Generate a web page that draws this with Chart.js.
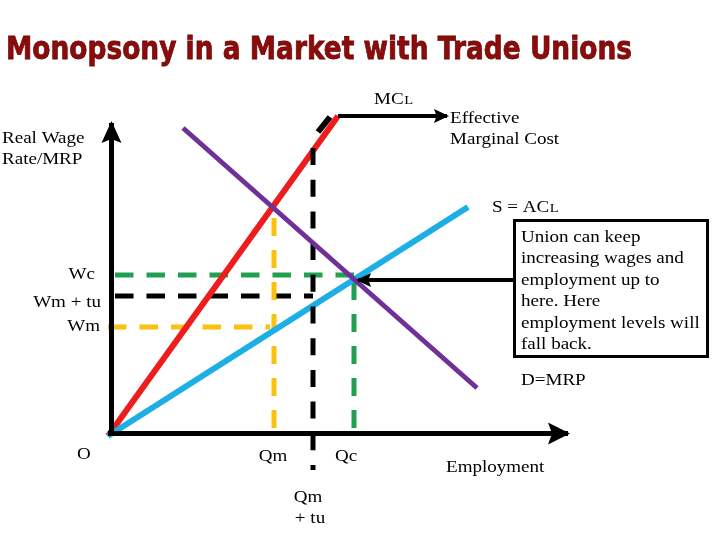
<!DOCTYPE html>
<html><head><meta charset="utf-8">
<script src="https://cdn.jsdelivr.net/npm/chart.js@4.4.1/dist/chart.umd.min.js"></script>
<style>html,body{margin:0;padding:0;background:#fff;}canvas{display:block;}</style>
</head><body>
<canvas id="c" width="720" height="540"></canvas>
<script>
// ---- Data (x = employment units, y = real wage units) ----
const titleText = 'Monopsony in a Market with Trade Unions';
const mclX = [0, 23.0];
const mclY = [0, 32.0];
const aclX = [0, 36.0];
const aclY = [0, 22.9];
const mrpX = [7.5, 36.9];
const mrpY = [30.8, 4.8];
const effMcX = [23.0, 33.9];
const effMcY = [32.0, 32.0];
const kinkX = [21.0, 22.2];
const kinkY = [30.4, 31.9];
const wageNames = ['Wm', 'Wm + tu', 'Wc'];
const wageValues = [10.9, 14.0, 16.1];
const qtyNames = ['Qm', 'Qm + tu', 'Qc'];
const qtyValues = [16.6, 20.5, 24.6];
const guideXStart = [0.0, 0.7, 0.7];
const guideXEnd = [16.2, 20.5, 24.6];
const guideYTop = [21.8, 28.8, 16.1];
const guideYBottom = [0.8, -3.4, 0.8];
const yAxisX = [0.35, 0.35];
const yAxisY = [0, 31.3];
const xAxisX = [0, 46.0];
const xAxisY = [0.25, 0.25];
const noteArrowX = [40.5, 25.0];
const noteArrowY = [15.6, 15.6];
const noteLines = ['Union can keep', 'increasing wages and', 'employment up to', 'here. Here', 'employment levels will', 'fall back.'];

// ---- styles ----
const RED = '#ee1c1c', BLUE = '#1eaee6', PURPLE = '#6f3198', YELLOW = '#fcc10f', GREEN = '#21a052', BLACK = '#000';
const pts = (xs, ys) => xs.map((x, i) => ({x, y: ys[i]}));
const guideColors = [YELLOW, BLACK, GREEN];

const datasets = [];
function line(data, color, width, order, extra) {
  datasets.push(Object.assign({data, borderColor: color, borderWidth: width, showLine: true, pointRadius: 0,
    fill: false, tension: 0, order, borderCapStyle: 'butt'}, extra || {}));
}
// horizontal guides
wageValues.forEach((w, i) => {
  line(pts([guideXStart[i], guideXEnd[i]], [w, w]), guideColors[i], 5, 20 - i, {borderDash: [18.5, 13]});
});
// vertical guides
qtyValues.forEach((q, i) => {
  const fromTop = i === 1;
  const ys = fromTop ? [guideYTop[i], guideYBottom[i]] : [guideYBottom[i], guideYTop[i]];
  line(pts([q, q], ys), guideColors[i], 5, i === 1 ? 6 : 15 - i, {borderDash: i === 1 ? [17, 14.7] : [18, 14]});
});
line(pts(mclX, mclY), RED, 6, 9);
line(pts(aclX, aclY), BLUE, 6, 8);
line(pts(kinkX, kinkY), BLACK, 6, 10);
line(pts(mrpX, mrpY), PURPLE, 5, 5);
line(pts(effMcX, effMcY), BLACK, 4, 4, {arrow: [13, 7]});
line(pts(noteArrowX, noteArrowY), BLACK, 4, 4, {arrow: [13, 7]});
line(pts(yAxisX, yAxisY), BLACK, 5, 3, {arrow: [20, 10]});
line(pts(xAxisX, xAxisY), BLACK, 5, 3, {arrow: [20, 11]});

const SX = 1.12;
function txt(ctx, t, x, y, align, size, sx) {
  ctx.save();
  ctx.font = (size || 17) + 'px "Liberation Serif"';
  ctx.fillStyle = '#000';
  ctx.textBaseline = 'alphabetic';
  ctx.translate(x, y);
  ctx.scale(sx || SX, 1);
  ctx.textAlign = align || 'left';
  ctx.fillText(t, 0, 0);
  ctx.restore();
}
function sub(ctx, main, s, x, y) {
  ctx.save();
  ctx.font = '17px "Liberation Serif"';
  const w = ctx.measureText(main).width * SX;
  ctx.restore();
  txt(ctx, main, x, y, 'left', 17);
  txt(ctx, s, x + w + 0.5, y, 'left', 13);
}

const overlay = {
  id: 'overlay',
  afterDatasetsDraw(chart) {
    const ctx = chart.ctx;
    const xs = chart.scales.x, ys = chart.scales.y;
    // arrowheads
    chart.data.datasets.forEach(ds => {
      if (!ds.arrow) return;
      const n = ds.data.length;
      const a = ds.data[n - 2], b = ds.data[n - 1];
      const ax = xs.getPixelForValue(a.x), ay = ys.getPixelForValue(a.y);
      const bx = xs.getPixelForValue(b.x), by = ys.getPixelForValue(b.y);
      const ang = Math.atan2(by - ay, bx - ax);
      const [len, hw] = ds.arrow;
      ctx.save();
      ctx.translate(bx, by);
      ctx.rotate(ang);
      ctx.fillStyle = BLACK;
      ctx.beginPath();
      ctx.moveTo(2, 0);
      ctx.lineTo(-len, -hw);
      ctx.lineTo(-len * 0.8, 0);
      ctx.lineTo(-len, hw);
      ctx.closePath();
      ctx.fill();
      ctx.restore();
    });
    // title
    ctx.save();
    ctx.font = 'bold 32px "DejaVu Sans"';
    const tw = ctx.measureText(titleText).width;
    ctx.translate(6, 59);
    ctx.scale(626 / tw, 1);
    ctx.fillStyle = '#8c0b0b';
    ctx.strokeStyle = '#6a0606';
    ctx.lineWidth = 0.8;
    ctx.fillText(titleText, 0, 0);
    ctx.strokeText(titleText, 0, 0);
    ctx.restore();

    // note box
    ctx.save();
    ctx.lineWidth = 3;
    ctx.strokeStyle = BLACK;
    ctx.strokeRect(514.5, 220.5, 193, 136);
    ctx.restore();
    noteLines.forEach((t, i) => txt(ctx, t, 521, 242 + i * 21.4, 'left', 17));

    sub(ctx, 'MC', 'L', 374, 104);
    sub(ctx, 'S = AC', 'L', 492, 212);
    txt(ctx, 'Effective', 450, 123);
    txt(ctx, 'Marginal Cost', 450, 144);
    txt(ctx, 'Real Wage', 2, 143);
    txt(ctx, 'Rate/MRP', 2, 164);
    txt(ctx, 'D=MRP', 521, 385);
    txt(ctx, 'O', 84, 459, 'center');
    txt(ctx, 'Employment', 446, 472);
    // wage labels
    const wageRight = [100, 101, 95];
    const wageBase = [331, 307, 279];
    wageNames.forEach((t, i) => txt(ctx, t, wageRight[i], wageBase[i], 'right', 17));
    // quantity labels
    txt(ctx, qtyNames[0], xs.getPixelForValue(qtyValues[0]) - 1, 461, 'center', 17);
    txt(ctx, qtyNames[2], xs.getPixelForValue(qtyValues[2]) - 8, 461, 'center', 17);
    const qParts = qtyNames[1].split(' + ');
    txt(ctx, qParts[0], xs.getPixelForValue(qtyValues[1]) - 5, 502, 'center', 17);
    txt(ctx, '+ ' + qParts[1], xs.getPixelForValue(qtyValues[1]) - 3, 523, 'center', 17);
  }
};

new Chart(document.getElementById('c'), {
  type: 'scatter',
  data: {datasets},
  options: {
    responsive: false,
    animation: false,
    events: [],
    layout: {padding: 0},
    plugins: {legend: {display: false}, tooltip: {enabled: false}, title: {display: false}},
    scales: {
      x: {type: 'linear', min: -10.8, max: 61.2, display: false},
      y: {type: 'linear', min: -10.4, max: 43.6, display: false}
    }
  },
  plugins: [overlay]
});
</script>
</body></html>
